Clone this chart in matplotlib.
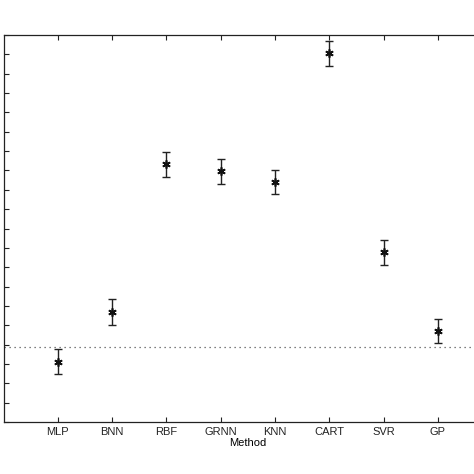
import matplotlib
matplotlib.use("Agg")
import matplotlib.pyplot as plt
import numpy as np

methods = ["MLP", "BNN", "RBF", "GRNN", "KNN", "CART", "SVR", "GP"]
means = [3.12, 5.68, 13.32, 12.96, 12.40, 19.05, 8.77, 4.70]
errors = [0.65, 0.67, 0.64, 0.64, 0.64, 0.65, 0.65, 0.64]
baseline = 3.88
yticks = list(range(0, 21))

plt.rcParams['font.family'] = ['Liberation Sans', 'DejaVu Sans']

fig = plt.figure(figsize=(4.74, 4.74), dpi=100)
ax = fig.add_axes([3.5/474, 1-422/474, 9*54.3/474, 387/474])

x = np.arange(1, len(methods)+1)
ax.errorbar(x, means, yerr=errors, fmt='none', ecolor='#222222', elinewidth=1.0,
            capsize=3.0, capthick=1.0)
ax.plot(x, means, linestyle='none', marker=(6, 2, 0), markersize=6,
        markeredgewidth=1.2, color='#111111')
ax.axhline(baseline, color='#555555', linestyle=(0, (1, 3)), linewidth=0.9)

ax.set_xlim(0, 9)
ax.set_ylim(0, 20)
ax.set_xticks(x)
ax.set_xticklabels(methods, fontsize=8)
ax.set_yticks(yticks)
ax.set_yticklabels([])
ax.tick_params(direction='in', length=3.6, width=0.8, top=True, right=True,
               colors='#222222', pad=3.5)
ax.set_xlabel("Method", fontsize=8, labelpad=1)
for s in ax.spines.values():
    s.set_linewidth(0.9)
    s.set_color('#222222')

fig.savefig("out.png", dpi=100)
